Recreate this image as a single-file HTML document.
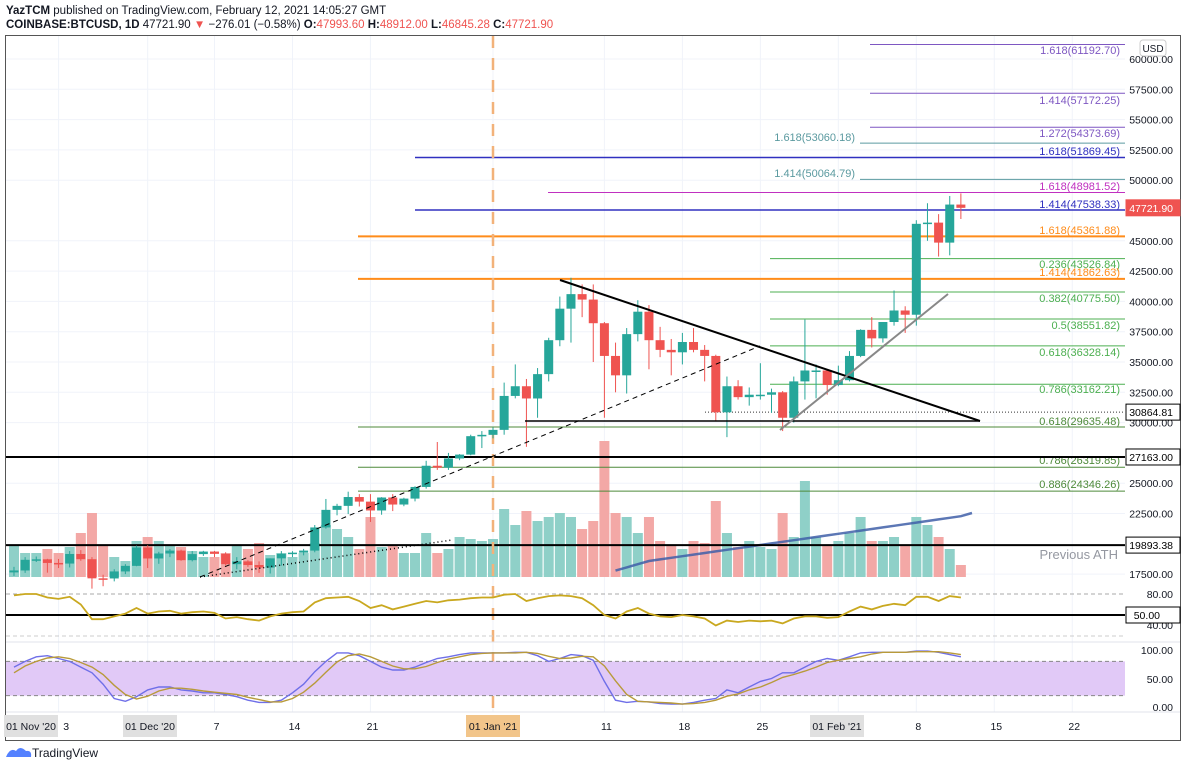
<!DOCTYPE html>
<html><head><meta charset="utf-8"><style>
body{margin:0;background:#fff;font-family:"Liberation Sans",sans-serif;}
svg{display:block}
text{font-family:"Liberation Sans",sans-serif;}
</style></head><body>
<svg id="c" width="1185" height="768" viewBox="0 0 1185 768" xmlns="http://www.w3.org/2000/svg">
<rect width="1185" height="768" fill="#fff"/>
<text x="6" y="14" font-size="11.5" fill="#131722"><tspan font-weight="bold">YazTCM</tspan> published on TradingView.com, February 12, 2021 14:05:27 GMT</text>
<text x="6" y="28" font-size="11.5" fill="#131722"><tspan font-weight="bold">COINBASE:BTCUSD, 1D</tspan> 47721.90 <tspan fill="#ef5350">▼</tspan> −276.01 (−0.58%) <tspan font-weight="bold">O:</tspan><tspan fill="#ef5350">47993.60</tspan> <tspan font-weight="bold">H:</tspan><tspan fill="#ef5350">48912.00</tspan> <tspan font-weight="bold">L:</tspan><tspan fill="#ef5350">46845.28</tspan> <tspan font-weight="bold">C:</tspan><tspan fill="#ef5350">47721.90</tspan></text>
<rect x="5.5" y="35.5" width="1175" height="705" fill="none" stroke="#555" stroke-width="1"/>
<g id="grid"></g>
<g id="vol"></g>
<g id="fibs"></g>
<g id="cand"></g>
<g id="over"></g>
<g id="ind"></g>
<g id="axis"></g>
<text x="1118" y="559" font-size="13" fill="#9598a1" text-anchor="end">Previous ATH</text>
<g>
<path d="M6 757 q4 -10 10 -6 q4 -6 10 0 q6 -1 5 6 z" fill="#2962ff" opacity="0.8"/>
<text x="32" y="757" font-size="12" fill="#131722">TradingView</text>
</g>
</svg>
<script>
const categoriesStart = "2020-11-19";
const opens = [17640,17800,18680,18720,18420,18370,19160,18730,17150,17140,17720,18180,
19700,18790,19200,19440,18650,19150,19360,19170,18320,18550,18250,18040,18800,19170,19270,19440,21350,22800,23130,23860,23480,22750,23820,23240,23730,24690,26440,26280,27040,27360,28880,
28990,29400,32200,33000,31990,34000,36800,39400,40600,40150,38200,35500,33900,37300,39150,36800,36000,35800,36650,36000,35500,30850,33000,32100,32300,32300,32500,30400,33400,34300,34300,
33100,33500,35500,37650,36950,38300,39250,38900,46400,46500,44850,47990];
const closes = [17800,18680,18720,18420,18370,19160,18730,17150,17140,17720,18180,19700,
18790,19200,19440,18650,19150,19360,19170,18320,18550,18250,18040,18800,19170,19270,19440,21350,22800,23130,23860,23480,22750,23820,23240,23730,24690,26440,26280,27040,27360,28880,28990,
29400,32200,33000,31990,34000,36800,39400,40600,40150,38200,35500,33900,37300,39150,36800,36000,35800,36650,36000,35500,30850,33000,32100,32300,32300,32500,30400,33400,34300,34300,33100,
33500,35500,37650,36950,38300,39250,38900,46400,46500,44850,47990,47720];
const highs = [18100,18900,18950,18760,18750,19400,19480,18900,17450,17900,18320,19850,
19880,19340,19570,19520,19400,19420,19420,19300,18900,18650,18550,18800,19400,19390,19580,21550,23700,23300,24300,24100,24100,23850,24100,23800,24750,26850,28400,27500,27400,29000,29300,
29600,33300,34800,33600,34500,37000,40400,41950,41400,41400,38300,36600,37800,40100,39700,37900,36900,37400,37800,36400,35600,33800,33500,32900,34900,32800,32600,33800,38500,34800,34300,
34700,35900,37700,38700,38300,40900,39600,46700,48100,47200,48700,48912];
const lows = [17350,17600,18500,17620,18000,18050,18600,16300,16500,16900,17500,18150,
18000,18350,18900,18600,18550,19000,18900,18200,17900,18100,17600,17550,18200,18900,19050,19300,21250,22350,22450,23080,21800,22400,22700,23100,23500,24550,26100,26100,26900,27300,27900,
28700,29000,32000,28000,30400,33400,36300,36600,38700,35000,30400,32500,32400,36700,34400,35400,33900,34800,35800,33400,30100,28800,31900,31400,31900,30800,29300,30000,31900,32000,32300,
33000,33400,35400,36200,36600,38000,37400,38000,45000,43700,43800,46800];
const volumes = [16,12,12,14,12,15,22,32,16,10,8,18,
20,18,16,15,13,10,10,12,16,14,17,11,12,10,12,17,26,24,20,14,30,15,16,12,12,22,12,14,20,19,18,
19,34,26,33,28,30,32,30,24,28,68,32,30,22,30,18,16,14,18,17,38,22,15,18,15,14,32,20,48,20,16,
18,22,30,18,18,20,16,30,26,20,14,6];
const rsi = [78,80,80,75,73,76,65,44,44,48,52,60,
52,55,56,52,54,55,53,45,47,44,42,48,52,54,55,68,74,75,76,70,60,64,58,62,66,70,68,71,72,74,75,
75,79,80,70,74,77,78,77,74,64,50,45,55,60,52,48,47,50,48,45,35,42,40,42,41,42,38,45,48,48,46,
47,55,62,58,63,66,64,76,76,70,77,75];
const stochK = [70,80,88,90,85,80,70,60,40,15,10,18,
30,35,35,30,28,25,25,22,18,12,8,8,12,25,40,62,80,95,95,90,80,70,65,65,70,78,85,88,92,95,95,
95,95,96,96,90,80,85,92,90,82,45,12,8,10,9,6,5,5,8,12,15,30,25,35,45,50,60,60,70,80,85,
82,88,95,96,96,96,96,98,98,96,92,88];
const stochD = [60,72,80,86,88,85,78,70,57,38,22,14,
19,28,33,33,31,28,26,24,22,17,13,9,9,15,26,42,61,79,90,93,88,80,72,67,67,71,78,84,88,92,94,
95,95,95,96,94,89,85,86,89,88,72,46,22,10,9,8,7,5,6,8,12,19,23,30,35,43,52,57,63,70,78,
82,85,88,93,96,96,96,97,97,97,95,92];
const volMA = [null,null,null,null,null,null,null,null,null,null,null,null,null,null,null,null,null,null,null,null,null,null,null,null,null,null,null,null,null,null,null,null,null,null,null,null,null,null,null,null,null,null,null,
null,null,null,null,null,null,null,null,null,null,null,4,6,8,10,11,12,13,14,15,16,17,18,19,20,21,22,23,24,25,26,27,
28,29,30,31,32,33,34,35,36,37,38,40];
const priceTicks = [60000,57500,55000,52500,50000,45000,42500,40000,37500,35000,32500,30000,25000,22500,17500];
const dateTickLabels = ["3","7","14","21","11","18","25","8","15","22"];
const dateTickDays = [-38.5,-25,-18,-11,10,17,24,38,45,52];
const fibLevels = [61192.70,57172.25,54373.69,53060.18,51869.45,50064.79,48981.52,47538.33,45361.88,43526.84,41862.63,40775.50,38551.82,36328.14,33162.21,29635.48,26319.85,24346.26];
const fibRatios = ["1.618","1.414","1.272","1.618","1.618","1.414","1.618","1.414","1.618","0.236","1.414","0.382","0.5","0.618","0.786","0.618","0.786","0.886"];

const NS="http://www.w3.org/2000/svg";
function mk(tag,attrs,parent){const e=document.createElementNS(NS,tag);for(const k in attrs)e.setAttribute(k,attrs[k]);if(parent)parent.appendChild(e);return e;}
const X0=493, DX=11.14, FIRST=-43;
function xDay(d){return X0+DX*d;}
function xIdx(i){return xDay(FIRST+i);}
function yP(p){return 59+(60000-p)*0.01212;}
function yV(v){return 577-v*2;}
function yR(r){return 615-(r-50)*0.7;}
function yS(s){return 707-s*0.57;}
const PR=1125;

const grid=document.getElementById('grid');
priceTicks.forEach(p=>{const l=mk('line',{x1:6,x2:PR,y1:yP(p),y2:yP(p),stroke:'#f0f3fa'},grid);

});
[-61,-31,0,31,-39,-25,-18,-11,10,17,24,38,45,52].forEach(d=>{const l=mk('line',{x1:xDay(d),x2:xDay(d),y1:36,y2:712,stroke:'#f0f3fa'},grid);

});

const vg=document.getElementById('vol');
volumes.forEach((v,i)=>{const up=closes[i]>=opens[i];
const r=mk('rect',{x:xIdx(i)-5,y:yV(v),width:10,height:577-yV(v),fill:up?'#8fd0c8':'#f3a8a6'},vg);

});
let vp='';volMA.forEach((v,i)=>{if(v!==null){vp+=(vp?'L':'M')+xIdx(i).toFixed(1)+' '+(577-v*1.6).toFixed(1);}});
const vm=mk('path',{d:vp,stroke:'#3f5fa8',fill:'none','stroke-width':2.5,opacity:0.85},vg);



const fg=document.getElementById('fibs');
const fibCfg=[[870,'#7e57c2',50],[870,'#7e57c2',100],[870,'#7e57c2',133],[860,'#5b9aa0',137,855],[415,'#3030c0',151],[860,'#5b9aa0',173,855],[548,'#c030c0',186],[415,'#3030c0',204],[358,'#ff8c1a',230],[770,'#4caf50',264],[358,'#ff8c1a',272],[770,'#4caf50',298],[770,'#4caf50',325],[770,'#4caf50',352],[770,'#4caf50',389],[358,'#4e8a3a',421],[358,'#4e8a3a',460],[358,'#4e8a3a',484]];
fibLevels.forEach((p,i)=>{const c=fibCfg[i];const y=yP(p);
const thick=(c[1]=='#ff8c1a')?2:(c[1]=='#3030c0'?1.5:1);
const l=mk('line',{x1:c[0],x2:PR,y1:y,y2:y,stroke:c[1],'stroke-width':thick},fg);


const t=mk('text',{x:c[3]||1120,y:c[2]+4,'font-size':11,'text-anchor':'end',fill:c[1]},fg);
t.textContent=fibRatios[i]+'('+p.toFixed(2)+')';

});
[[27163,2],[19893.38,2]].forEach(a=>{const l=mk('line',{x1:6,x2:PR,y1:yP(a[0]),y2:yP(a[0]),stroke:'#000','stroke-width':a[1]},fg);

});
const dl=mk('line',{x1:705,x2:PR,y1:yP(30864.81),y2:yP(30864.81),stroke:'#333','stroke-dasharray':'1 2'},fg);


const vl=mk('line',{x1:493,x2:493,y1:36,y2:712,stroke:'#f2b27a','stroke-width':2.5,'stroke-dasharray':'12 10'},fg);



const cg=document.getElementById('cand');
closes.forEach((c,i)=>{const o=opens[i],up=c>=o,col=up?'#26a69a':'#ef5350',x=xIdx(i);
const w=mk('line',{x1:x,x2:x,y1:yP(highs[i]),y2:yP(lows[i]),stroke:col,'stroke-width':1},cg);


const top=yP(Math.max(o,c)),bot=yP(Math.min(o,c));
const b=mk('rect',{x:x-4.5,y:top,width:9,height:Math.max(1.5,bot-top),fill:col},cg);

});

const og=document.getElementById('over');
[[560,280,980,421,'#000',2,''],[525,421,980,421,'#000',1.5,''],[200,577,760,346,'#000',1,'5 4'],[200,577,452,540,'#000',1.5,'1 3'],[780,430,948,294,'#888',2,'']].forEach(a=>{
const l=mk('line',{x1:a[0],y1:a[1],x2:a[2],y2:a[3],stroke:a[4],'stroke-width':a[5],'stroke-dasharray':a[6]},og);

});

const ig=document.getElementById('ind');
[[594,'#aaa','4 3',1],[636,'#ccc','4 3',1]].forEach(a=>{const l=mk('line',{x1:6,x2:PR,y1:a[0],y2:a[0],stroke:a[1],'stroke-dasharray':a[2]},ig);

});
const r50=mk('line',{x1:6,x2:PR,y1:615,y2:615,stroke:'#000','stroke-width':2},ig);


const sep=mk('line',{x1:6,x2:1180,y1:642,y2:642,stroke:'#e0e3eb'},ig);


let rp='';rsi.forEach((r,i)=>{rp+=(i?'L':'M')+xIdx(i).toFixed(1)+' '+yR(r).toFixed(1);});
const rl=mk('path',{d:rp,fill:'none',stroke:'#c9a81f','stroke-width':1.8},ig);


const band=mk('rect',{x:6,y:yS(80),width:PR-6,height:yS(20)-yS(80),fill:'#e1c9f7'},ig);


[80,20].forEach(v=>{const l=mk('line',{x1:6,x2:PR,y1:yS(v),y2:yS(v),stroke:'#888','stroke-dasharray':'4 3'},ig);

});
let kp='',dp='';stochK.forEach((k,i)=>{kp+=(i?'L':'M')+xIdx(i).toFixed(1)+' '+yS(k).toFixed(1);});
stochD.forEach((d,i)=>{dp+=(i?'L':'M')+xIdx(i).toFixed(1)+' '+yS(d).toFixed(1);});
const kl=mk('path',{d:kp,fill:'none',stroke:'#6f6fe8','stroke-width':1.4},ig);


const dln=mk('path',{d:dp,fill:'none',stroke:'#b89a3a','stroke-width':1.4},ig);



const ag=document.getElementById('axis');
mk('line',{x1:6,x2:1180,y1:712,y2:712,stroke:'#e0e3eb'},ag);
priceTicks.forEach(p=>{const t=mk('text',{x:1173,y:yP(p)+4,'font-size':10.5,'text-anchor':'end',fill:'#131722'},ag);
t.textContent=p.toFixed(2);

});
[[80,594],[40,625],[100,650],[50,679],[0,707]].forEach(a=>{const t=mk('text',{x:1173,y:a[1]+4,'font-size':10.5,'text-anchor':'end',fill:'#131722'},ag);
t.textContent=a[0].toFixed(2);

});
const usd=mk('rect',{x:1140,y:40,width:26,height:16,rx:3,fill:'#fff',stroke:'#ccc'},ag);


const ut=mk('text',{x:1153,y:52,'font-size':10,'text-anchor':'middle',fill:'#131722'},ag);ut.textContent='USD';
[[47721.90,'#ef5350','#fff','#ef5350'],[30864.81,'#fff','#000','#000'],[27163,'#fff','#000','#000'],[19893.38,'#fff','#000','#000']].forEach(a=>{const y=yP(a[0]);
const r=mk('rect',{x:1126,y:y-8,width:54,height:16,fill:a[1],stroke:a[3]},ag);


const t=mk('text',{x:1173,y:y+4,'font-size':10.5,'text-anchor':'end',fill:a[2]},ag);t.textContent=a[0].toFixed(2);});
const m50=mk('rect',{x:1126,y:607,width:54,height:16,fill:'#fff',stroke:'#000'},ag);


const t50=mk('text',{x:1160,y:619,'font-size':10.5,'text-anchor':'end',fill:'#000'},ag);t50.textContent='50.00';
dateTickLabels.forEach((s,i)=>{const t=mk('text',{x:xDay(dateTickDays[i])+2,y:730,'font-size':10.5,'text-anchor':'middle',fill:'#131722'},ag);
t.textContent=s;

});
[[31,'01 Nov \'20','#e0e0e0'],[150,'01 Dec \'20','#e0e0e0'],[493,'01 Jan \'21','#f2c58a'],[837,'01 Feb \'21','#e0e0e0']].forEach(a=>{
const w=54;const cx=a[0];
const r=mk('rect',{x:cx-w/2,y:715,width:w,height:22,fill:a[2]},ag);


const t=mk('text',{x:cx,y:730,'font-size':10.5,'text-anchor':'middle',fill:'#131722'},ag);t.textContent=a[1];});
</script>
</body></html>
